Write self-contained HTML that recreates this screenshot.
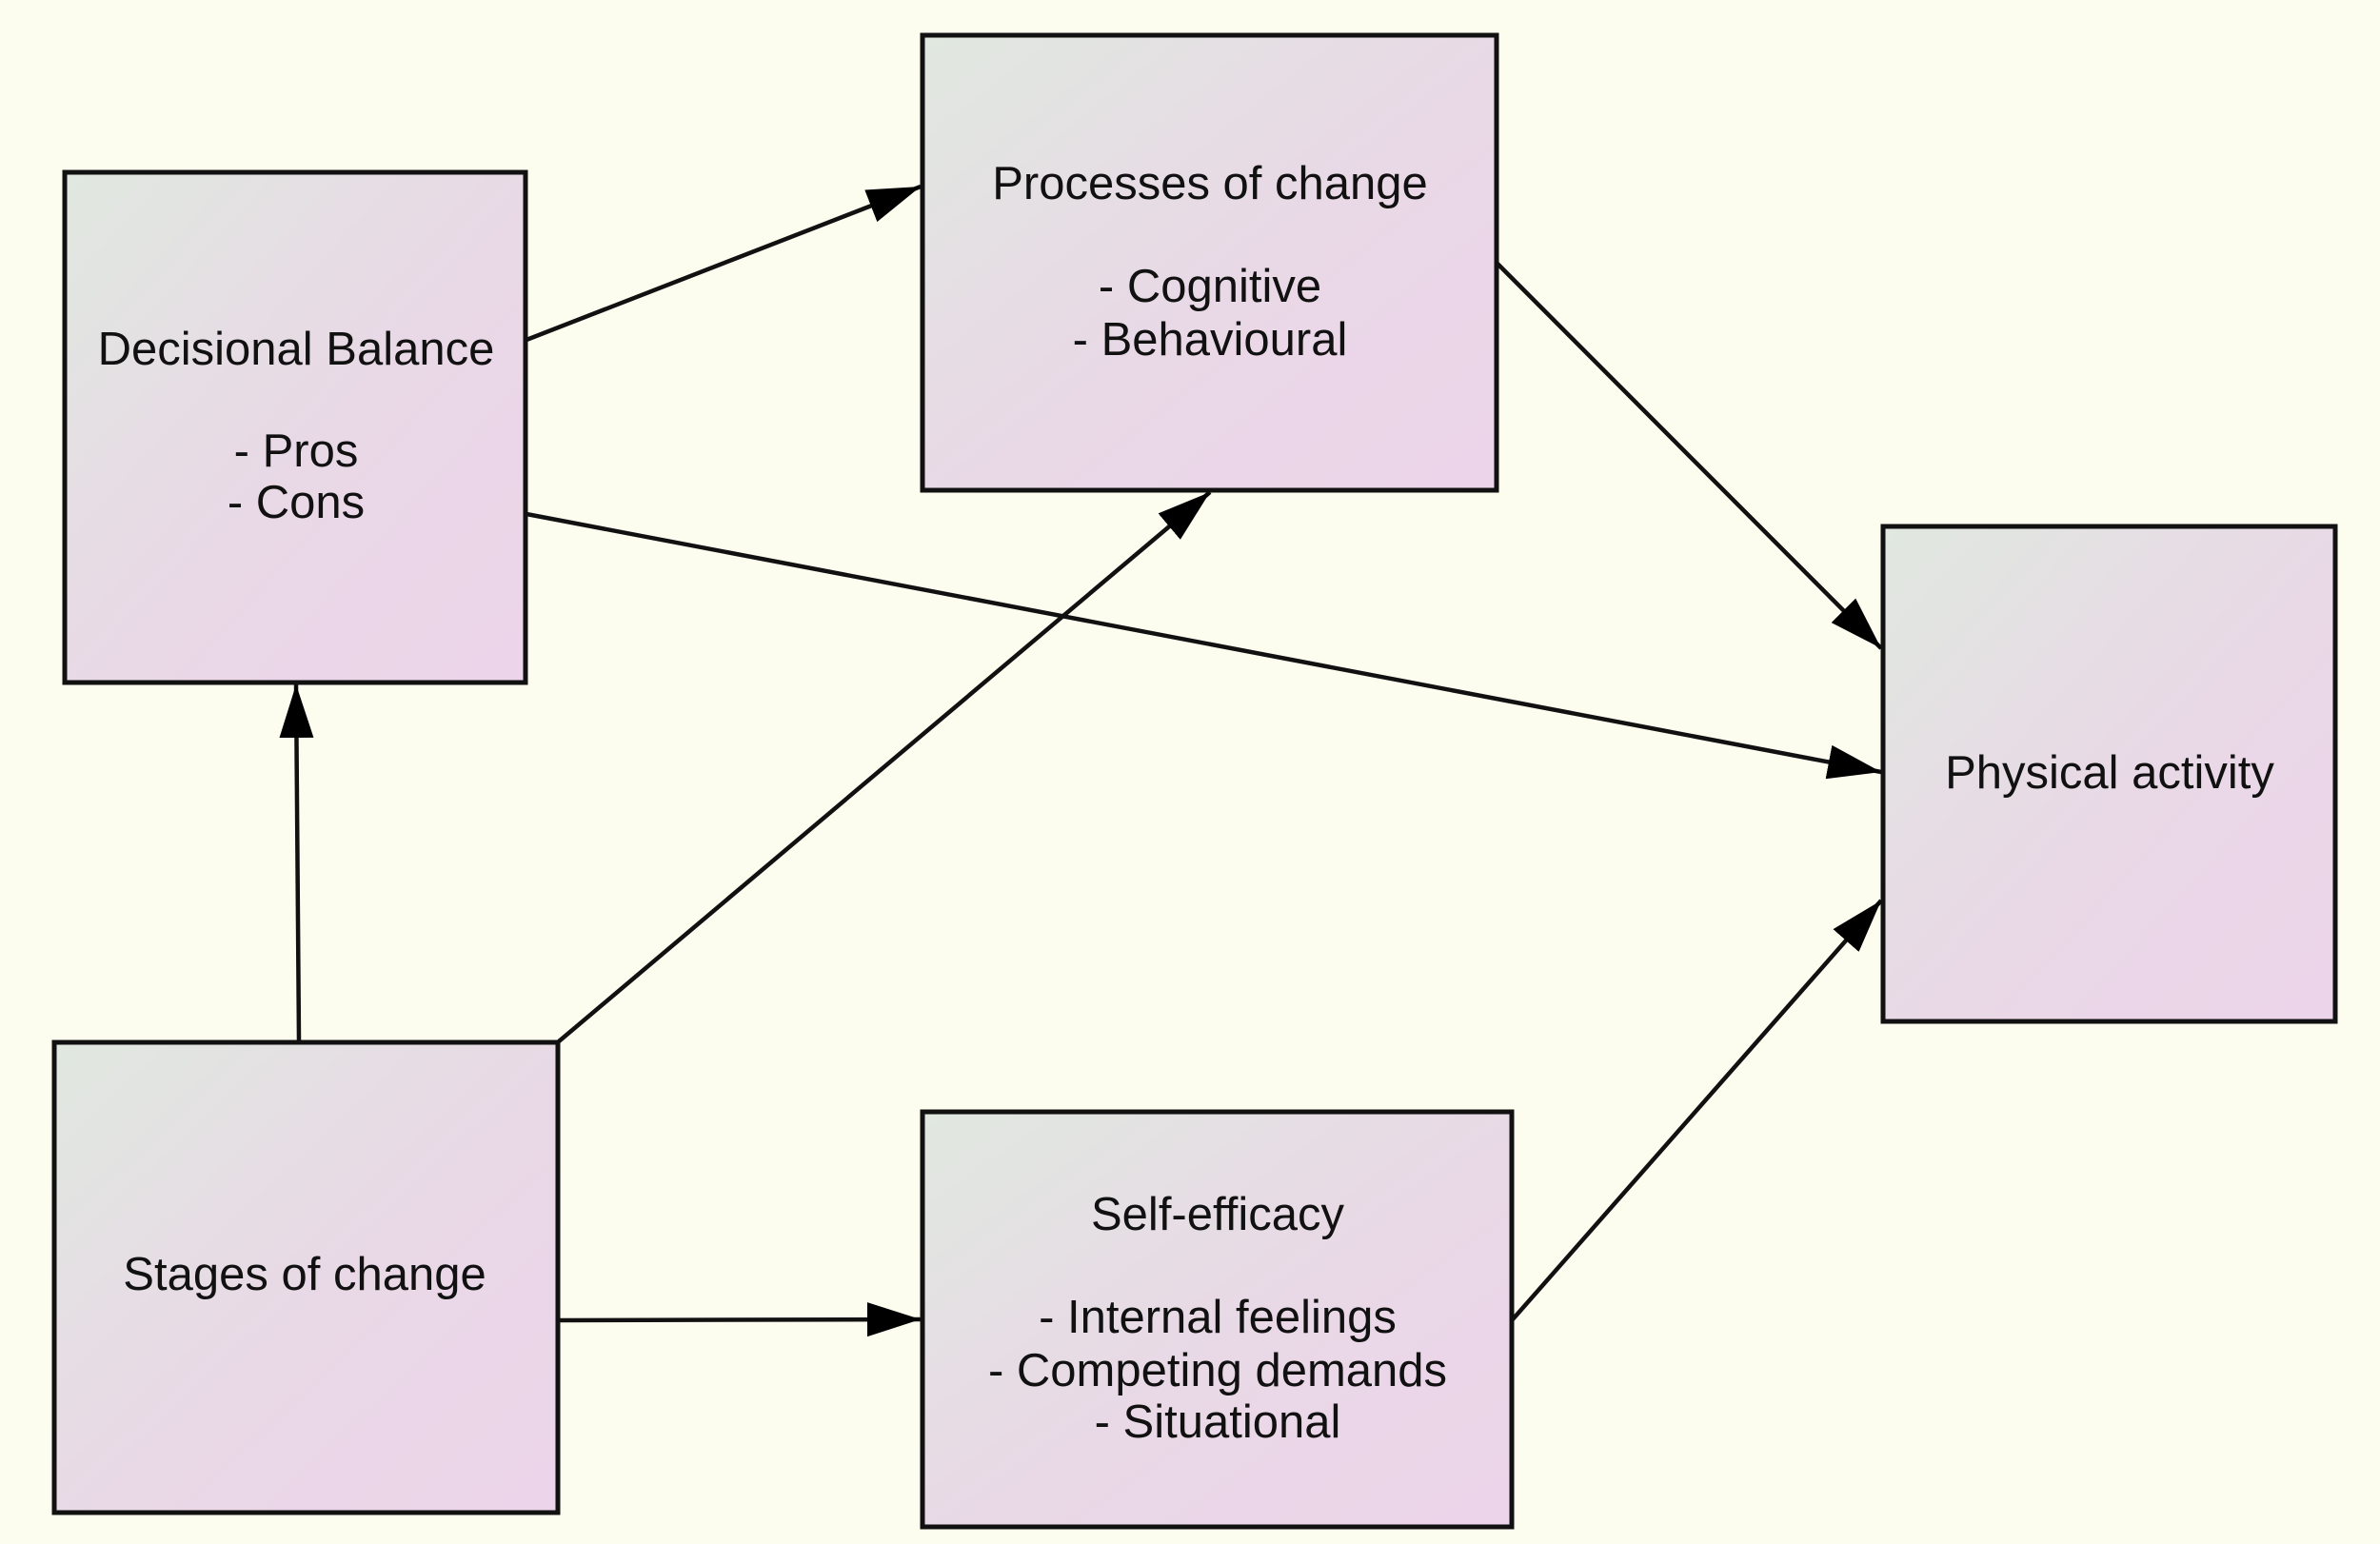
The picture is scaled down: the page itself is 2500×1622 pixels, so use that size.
<!DOCTYPE html>
<html><head><meta charset="utf-8"><style>html,body{margin:0;padding:0;background:#fdfdef;}svg{display:block}</style></head>
<body>
<svg width="2500" height="1622" viewBox="0 0 2500 1622" xmlns="http://www.w3.org/2000/svg">
<defs>
<linearGradient id="g" x1="0" y1="0" x2="1" y2="1">
<stop offset="0" stop-color="#e0e8e0"/><stop offset="0.55" stop-color="#e9d8e6"/><stop offset="1" stop-color="#ecd4ea"/>
</linearGradient>
<marker id="a" markerWidth="56" markerHeight="36" refX="56" refY="18" orient="auto" markerUnits="userSpaceOnUse">
<path d="M0,0 L56,18 L0,36 Z" fill="#000"/>
</marker>
</defs>
<rect width="2500" height="1622" fill="#fdfdef"/>
<g fill="url(#g)" stroke="#111" stroke-width="5">
<rect x="68" y="181" width="484" height="536"/>
<rect x="969" y="37" width="603" height="478"/>
<rect x="1978" y="553" width="475" height="520"/>
<rect x="57" y="1095" width="529" height="494"/>
<rect x="969" y="1168" width="619" height="436"/>
</g>
<g stroke="#111" stroke-width="4.5" fill="none" marker-end="url(#a)">
<line x1="553" y1="357" x2="967" y2="196"/>
<line x1="553" y1="540" x2="1976" y2="811"/>
<line x1="1573" y1="277" x2="1976" y2="681"/>
<line x1="314" y1="1093" x2="311" y2="719"/>
<line x1="587" y1="1094" x2="1271" y2="517"/>
<line x1="587" y1="1387" x2="967" y2="1386"/>
<line x1="1589" y1="1386" x2="1976" y2="946"/>
</g>
<g font-family="Liberation Sans, Arial, sans-serif" font-size="49" fill="#111" text-anchor="middle" dominant-baseline="central">
<text x="311" y="367">Decisional Balance</text>
<text x="311" y="474">- Pros</text>
<text x="311" y="528">- Cons</text>
<text x="1271" y="193">Processes of change</text>
<text x="1271" y="301">- Cognitive</text>
<text x="1271" y="357">- Behavioural</text>
<text x="2216" y="812">Physical activity</text>
<text x="320" y="1339">Stages of change</text>
<text x="1279" y="1276">Self-efficacy</text>
<text x="1279" y="1384">- Internal feelings</text>
<text x="1279" y="1440">- Competing demands</text>
<text x="1279" y="1494">- Situational</text>
</g>
</svg>
</body></html>
